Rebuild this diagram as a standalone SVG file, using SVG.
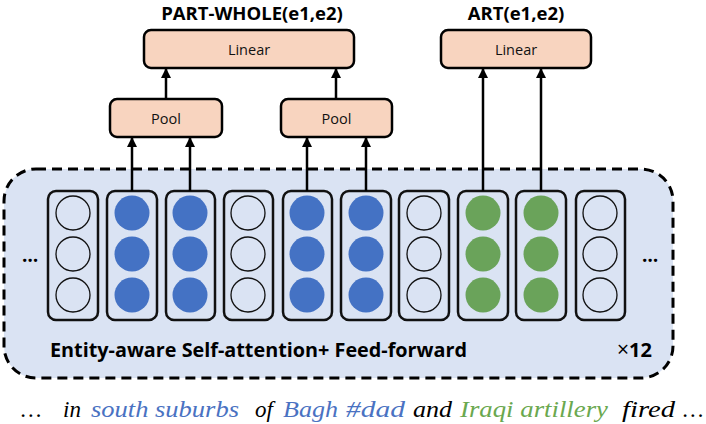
<svg xmlns="http://www.w3.org/2000/svg" width="706" height="424" viewBox="0 0 706 424">
<style>
.node{fill:#F8D4BF;stroke:#000;stroke-width:2.5}
.col{fill:none;stroke:#111;stroke-width:2.5}
.e{fill:none;stroke:#111;stroke-width:1.3}
.b{fill:#4472C4}
.g{fill:#6AA35A}
.lbl{font-family:"Open Sans","Liberation Sans",sans-serif;font-size:14.5px;fill:#111;text-anchor:middle}
.ttl{font-family:"Open Sans","Liberation Sans",sans-serif;font-weight:bold;font-size:18.5px;fill:#000;text-anchor:middle}
.big{font-family:"Open Sans","Liberation Sans",sans-serif;font-weight:bold;font-size:19px;fill:#000}
.sent{font-family:"Liberation Serif",serif;font-style:italic;font-size:23px;fill:#000}
.bt{fill:#4A72C2}
.gt{fill:#6AA84F}
.conn{stroke:#000;stroke-width:2.5;fill:none;marker-end:url(#ah)}
</style>
<defs>
<marker id="ah" viewBox="0 0 10 10" refX="9" refY="5" markerWidth="4" markerHeight="4" orient="auto" markerUnits="strokeWidth">
<path d="M0,0 L10,5 L0,10 z" fill="#000"/>
</marker>
</defs>
<rect width="706" height="424" fill="#fff"/>
<g id="encoder">
<rect x="4" y="169" width="669" height="209" rx="32" fill="#DAE3F3" stroke="#000" stroke-width="3" stroke-dasharray="10 6"/>
<text x="50" y="357" class="big" textLength="417" lengthAdjust="spacingAndGlyphs">Entity-aware Self-attention+ Feed-forward</text>
<text x="617" y="357" class="big"><tspan font-weight="normal" font-size="21">×</tspan><tspan font-weight="bold" font-size="20">12</tspan></text>
<text x="30" y="262" class="big" text-anchor="middle">…</text>
<text x="650" y="262" class="big" text-anchor="middle">…</text>
</g>
<g id="tokens">
<g id="t1"><rect x="48" y="191" width="50" height="129" rx="8" class="col"/><circle cx="73" cy="213" r="17" class="e"/><circle cx="73" cy="254" r="17" class="e"/><circle cx="73" cy="295" r="17" class="e"/></g>
<g id="t2"><rect x="107" y="191" width="50" height="129" rx="8" class="col"/><circle cx="132" cy="213" r="17.5" class="b"/><circle cx="132" cy="254" r="17.5" class="b"/><circle cx="132" cy="295" r="17.5" class="b"/></g>
<g id="t3"><rect x="166" y="191" width="49" height="129" rx="8" class="col"/><circle cx="190" cy="213" r="17.5" class="b"/><circle cx="190" cy="254" r="17.5" class="b"/><circle cx="190" cy="295" r="17.5" class="b"/></g>
<g id="t4"><rect x="224" y="191" width="49" height="129" rx="8" class="col"/><circle cx="248" cy="213" r="17" class="e"/><circle cx="248" cy="254" r="17" class="e"/><circle cx="248" cy="295" r="17" class="e"/></g>
<g id="t5"><rect x="283" y="191" width="49" height="129" rx="8" class="col"/><circle cx="307" cy="213" r="17.5" class="b"/><circle cx="307" cy="254" r="17.5" class="b"/><circle cx="307" cy="295" r="17.5" class="b"/></g>
<g id="t6"><rect x="341" y="191" width="50" height="129" rx="8" class="col"/><circle cx="366" cy="213" r="17.5" class="b"/><circle cx="366" cy="254" r="17.5" class="b"/><circle cx="366" cy="295" r="17.5" class="b"/></g>
<g id="t7"><rect x="399" y="191" width="50" height="129" rx="8" class="col"/><circle cx="424" cy="213" r="17" class="e"/><circle cx="424" cy="254" r="17" class="e"/><circle cx="424" cy="295" r="17" class="e"/></g>
<g id="t8"><rect x="458" y="191" width="50" height="129" rx="8" class="col"/><circle cx="483" cy="213" r="17.5" class="g"/><circle cx="483" cy="254" r="17.5" class="g"/><circle cx="483" cy="295" r="17.5" class="g"/></g>
<g id="t9"><rect x="516" y="191" width="50" height="129" rx="8" class="col"/><circle cx="541" cy="213" r="17.5" class="g"/><circle cx="541" cy="254" r="17.5" class="g"/><circle cx="541" cy="295" r="17.5" class="g"/></g>
<g id="t10"><rect x="576" y="191" width="49" height="129" rx="8" class="col"/><circle cx="600" cy="213" r="17" class="e"/><circle cx="600" cy="254" r="17" class="e"/><circle cx="600" cy="295" r="17" class="e"/></g>
</g>
<g id="pool1"><rect x="110" y="99" width="112" height="38" rx="7" class="node"/><text x="166" y="123.5" class="lbl">Pool</text></g>
<g id="pool2"><rect x="281" y="99" width="111" height="38" rx="7" class="node"/><text x="336.5" y="123.5" class="lbl">Pool</text></g>
<g id="linear1"><rect x="144" y="30" width="210" height="38" rx="7" class="node"/><text x="249" y="54.5" class="lbl">Linear</text></g>
<g id="linear2"><rect x="441" y="30" width="150" height="38" rx="7" class="node"/><text x="516" y="54.5" class="lbl">Linear</text></g>
<g id="titles">
<text x="252" y="20" class="ttl">PART-WHOLE(e1,e2)</text>
<text x="516" y="20" class="ttl">ART(e1,e2)</text>
</g>
<g id="connectors">
<line x1="132" y1="191" x2="132" y2="138" class="conn"/>
<line x1="190" y1="191" x2="190" y2="138" class="conn"/>
<line x1="307" y1="191" x2="307" y2="138" class="conn"/>
<line x1="366" y1="191" x2="366" y2="138" class="conn"/>
<line x1="166" y1="99" x2="166" y2="69" class="conn"/>
<line x1="336" y1="99" x2="336" y2="69" class="conn"/>
<line x1="483" y1="191" x2="483" y2="69" class="conn"/>
<line x1="541" y1="191" x2="541" y2="69" class="conn"/>
</g>
<g id="sentence" class="sent">
<text x="21" y="417">…</text>
<text x="63" y="417">in</text>
<text x="91" y="417" class="bt" textLength="148" lengthAdjust="spacingAndGlyphs">south suburbs</text>
<text x="255" y="417">of</text>
<text x="283" y="417" class="bt" textLength="55" lengthAdjust="spacingAndGlyphs">Bagh</text>
<text x="346" y="417" class="bt" textLength="59" lengthAdjust="spacingAndGlyphs">#dad</text>
<text x="413" y="417" textLength="39" lengthAdjust="spacingAndGlyphs">and</text>
<text x="460" y="417" class="gt" textLength="148" lengthAdjust="spacingAndGlyphs">Iraqi artillery</text>
<text x="622" y="417" textLength="53" lengthAdjust="spacingAndGlyphs">fired</text>
<text x="683" y="417">…</text>
</g>
</svg>
